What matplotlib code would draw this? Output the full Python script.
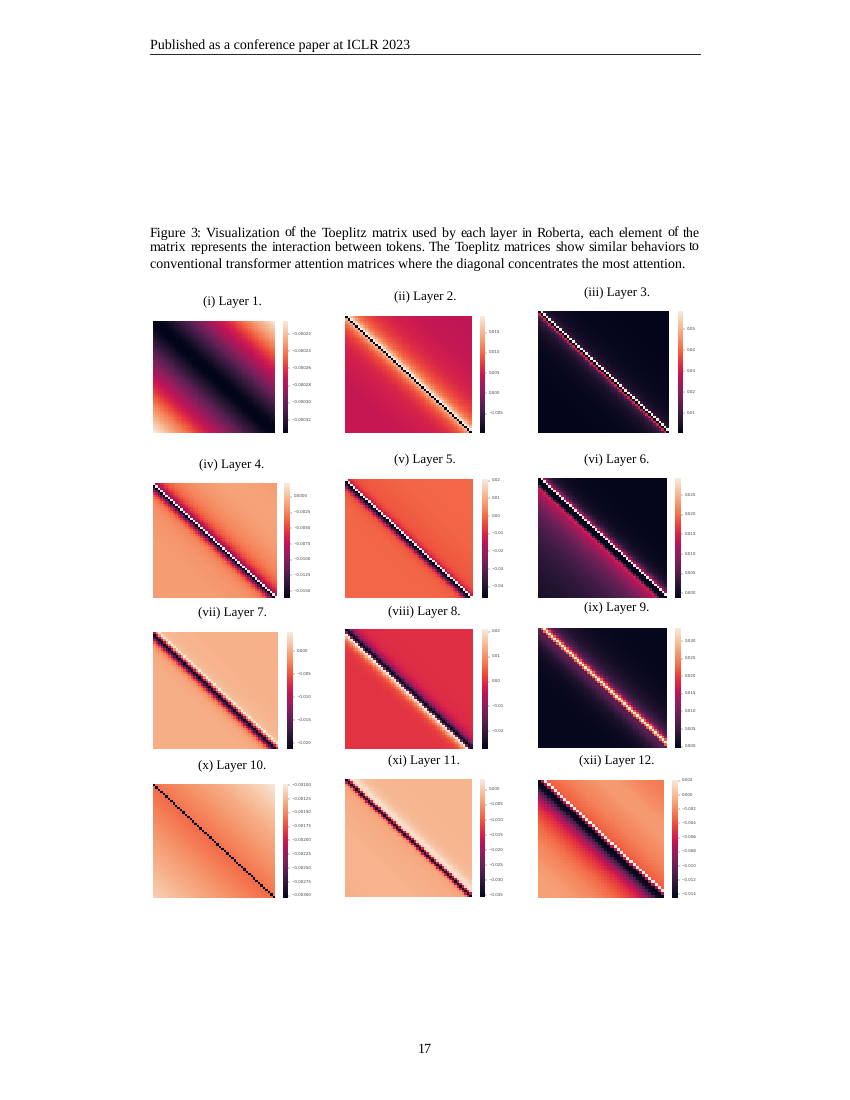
import matplotlib
matplotlib.use("Agg")
import matplotlib.pyplot as plt
import numpy as np
import seaborn as sns

plt.rcParams['font.family'] = ['Liberation Serif', 'DejaVu Serif']
plt.rcParams['text.hinting'] = 'no_hinting'
plt.rcParams['text.hinting_factor'] = 1

PAGE_W, PAGE_H = 850, 1100

# values, per offset from the main diagonal, in units of 1e-3
layer1_upper = [-.335, -.335, -.334, -.333, -.331, -.329, -.327, -.325, -.322, -.320,
                -.317, -.314, -.312, -.309, -.306, -.303, -.300, -.298, -.295, -.292,
                -.290, -.287, -.284, -.282, -.279, -.277, -.274, -.272, -.269, -.267,
                -.264, -.261, -.258, -.255, -.252, -.249, -.246, -.243, -.240, -.237,
                -.234, -.231, -.228, -.225, -.223, -.220, -.217, -.214, -.210, -.205]
layer1_lower = [-.335, -.335, -.334, -.332, -.330, -.328, -.325, -.323, -.320, -.318,
                -.315, -.312, -.309, -.306, -.303, -.300, -.298, -.295, -.292, -.290,
                -.287, -.284, -.282, -.279, -.277, -.274, -.272, -.269, -.267, -.264,
                -.261, -.258, -.255, -.252, -.249, -.246, -.243, -.240, -.237, -.234,
                -.232, -.229, -.226, -.223, -.220, -.217, -.214, -.211, -.208, -.205]

layer2_upper = [-9.7, 19.1, 16.0, 13.5, 11.8, 10.5, 9.7, 9.0, 8.4, 7.9,
                7.5, 7.1, 6.8, 6.5, 6.2, 6.0, 5.8, 5.6, 5.4, 5.2,
                5.1, 5.0, 4.9, 4.8, 4.7, 4.6, 4.5, 4.4, 4.3, 4.3,
                4.2, 4.2, 4.1, 4.1, 4.0, 4.0, 3.9, 3.9, 3.9, 3.8,
                3.8, 3.8, 3.8, 3.8, 3.8, 3.8, 3.8, 3.9, 3.9, 3.9]
layer2_lower = [-9.7, 14.5, 12.2, 10.7, 9.6, 8.7, 8.0, 7.5, 7.0, 6.6,
                6.3, 6.0, 5.8, 5.6, 5.4, 5.3, 5.2, 5.1, 5.0, 4.9,
                4.8, 4.7, 4.6, 4.6, 4.5, 4.5, 4.4, 4.4, 4.3, 4.3,
                4.3, 4.3, 4.3, 4.3, 4.3, 4.3, 4.3, 4.3, 4.3, 4.3,
                4.3, 4.3, 4.3, 4.3, 4.3, 4.3, 4.3, 4.4, 4.4, 4.4]

layer3_upper = [0.7, 58.5, 8.5, 6.0, 4.8, 4.0, 3.5, 3.1, 2.8, 2.6,
                2.4, 2.2, 2.0, 1.9, 1.8, 1.7, 1.6, 1.5, 1.4, 1.4,
                1.3, 1.3, 1.2, 1.2, 1.2, 1.1, 1.1, 1.1, 1.0, 1.0,
                1.0, 1.0, 1.0, 0.9, 0.9, 0.9, 0.9, 0.9, 0.9, 0.9,
                0.9, 0.9, 0.9, 0.9, 0.9, 0.9, 0.9, 0.9, 0.9, 0.9]
layer3_lower = [0.7, 31.0, 14.0, 9.5, 7.5, 6.2, 5.2, 4.5, 4.0, 3.5,
                3.1, 2.8, 2.5, 2.3, 2.1, 2.0, 1.8, 1.7, 1.6, 1.5,
                1.4, 1.4, 1.3, 1.3, 1.2, 1.2, 1.1, 1.1, 1.0, 1.0,
                1.0, 1.0, 1.0, 0.9, 0.9, 0.9, 0.9, 0.9, 0.9, 0.9,
                0.9, 0.9, 0.9, 0.9, 0.9, 0.9, 0.9, 0.9, 0.9, 0.9]

layer4_upper = [2.2, -9.0, -7.5, -6.2, -5.2, -4.5, -4.0, -3.6, -3.3, -3.0,
                -2.8, -2.6, -2.4, -2.3, -2.2, -2.1, -2.0, -1.9, -1.8, -1.7,
                -1.6, -1.6, -1.5, -1.5, -1.4, -1.4, -1.3, -1.3, -1.3, -1.3,
                -1.2, -1.2, -1.2, -1.2, -1.2, -1.2, -1.2, -1.2, -1.3, -1.3,
                -1.3, -1.3, -1.3, -1.4, -1.4, -1.4, -1.4, -1.5, -1.5, -1.5]
layer4_lower = [2.2, -16.1, -12.0, -8.0, -5.5, -4.0, -3.2, -2.7, -2.4, -2.2,
                -2.1, -2.0, -1.9, -1.9, -1.8, -1.8, -1.7, -1.7, -1.7, -1.6,
                -1.6, -1.6, -1.6, -1.5, -1.5, -1.5, -1.5, -1.5, -1.5, -1.5,
                -1.5, -1.5, -1.5, -1.5, -1.5, -1.5, -1.5, -1.5, -1.5, -1.5,
                -1.5, -1.5, -1.5, -1.5, -1.5, -1.5, -1.5, -1.5, -1.5, -1.5]

layer5_upper = [20.9, -12.0, -8.0, -5.5, -4.0, -3.4, -3.0, -2.7, -2.5, -2.3,
                -2.2, -2.1, -2.0, -1.9, -1.7, -1.6, -1.5, -1.4, -1.3, -1.2,
                -1.1, -1.0, -0.9, -0.9, -0.8, -0.8, -0.7, -0.7, -0.6, -0.6,
                -0.6, -0.5, -0.5, -0.5, -0.5, -0.5, -0.5, -0.5, -0.5, -0.5,
                -0.5, -0.5, -0.5, -0.5, -0.5, -0.5, -0.5, -0.5, -0.5, -0.5]
layer5_lower = [20.9, -46.0, -38.0, -22.0, -9.0, -4.0, -2.5, -1.8, -1.4, -1.2,
                -1.0, -0.9, -0.8, -0.7, -0.7, -0.6, -0.6, -0.6, -0.5, -0.5,
                -0.5, -0.5, -0.5, -0.5, -0.5, -0.5, -0.5, -0.5, -0.5, -0.5,
                -0.5, -0.5, -0.5, -0.5, -0.5, -0.5, -0.5, -0.5, -0.5, -0.5,
                -0.5, -0.5, -0.5, -0.5, -0.5, -0.5, -0.5, -0.5, -0.5, -0.5]

layer6_upper = [-1.2, 29.3, 12.0, 6.5, 3.8, 2.2, 1.4, 0.8, 0.4, 0.1,
                -0.1, -0.3, -0.4, -0.5, -0.6, -0.7, -0.7, -0.8, -0.8, -0.8,
                -0.9, -0.9, -0.9, -0.9, -0.9, -0.9, -0.9, -0.9, -0.9, -0.9,
                -0.9, -0.9, -0.9, -0.9, -0.9, -0.9, -0.9, -0.9, -0.9, -0.9,
                -0.9, -0.9, -0.9, -0.9, -0.9, -0.9, -0.9, -0.9, -0.9, -0.9]
layer6_lower = [-1.2, -0.8, -0.6, 6.0, 14.5, 13.0, 11.8, 10.8, 10.0, 9.3,
                8.7, 8.1, 7.6, 7.1, 6.7, 6.3, 5.9, 5.6, 5.3, 5.0,
                4.7, 4.4, 4.2, 4.0, 3.8, 3.6, 3.4, 3.2, 3.0, 2.8,
                2.7, 2.5, 2.4, 2.2, 2.1, 2.0, 1.9, 1.8, 1.7, 1.6,
                1.5, 1.4, 1.3, 1.2, 1.1, 1.0, 1.0, 0.9, 0.8, 0.7]

layer7_upper = [-10.0, -1.5, 4.2, 1.5, 1.1, 0.9, 0.8, 0.7, 0.7, 0.6,
                0.6, 0.5, 0.5, 0.5, 0.5, 0.5, 0.4, 0.4, 0.4, 0.4,
                0.4, 0.4, 0.4, 0.4, 0.4, 0.4, 0.4, 0.4, 0.4, 0.4,
                0.4, 0.4, 0.4, 0.4, 0.4, 0.4, 0.4, 0.4, 0.4, 0.4,
                0.4, 0.4, 0.4, 0.4, 0.4, 0.4, 0.4, 0.4, 0.4, 0.4]
layer7_lower = [-10.0, -21.0, -17.0, -10.0, -5.0, -2.5, -1.4, -0.8, -0.4, -0.2,
                -0.1, 0.0, 0.1, 0.1, 0.2, 0.2, 0.2, 0.2, 0.2, 0.2,
                0.2, 0.2, 0.2, 0.2, 0.2, 0.2, 0.2, 0.2, 0.2, 0.2,
                0.2, 0.2, 0.2, 0.2, 0.2, 0.2, 0.2, 0.2, 0.2, 0.2,
                0.2, 0.2, 0.2, 0.2, 0.2, 0.2, 0.2, 0.2, 0.2, 0.2]

layer8_upper = [-27.0, -20.0, -12.0, -7.0, -4.0, -2.5, -1.5, -1.0, -0.7, -0.5,
                -0.4, -0.3, -0.2, -0.1, -0.1, 0.0, 0.0, 0.0, 0.1, 0.1,
                0.1, 0.1, 0.1, 0.2, 0.2, 0.2, 0.2, 0.2, 0.2, 0.2,
                0.2, 0.2, 0.2, 0.2, 0.2, 0.2, 0.2, 0.2, 0.2, 0.2,
                0.2, 0.2, 0.2, 0.2, 0.2, 0.2, 0.2, 0.2, 0.2, 0.2]
layer8_lower = [-27.0, -12.0, 21.1, 14.0, 8.5, 5.0, 3.0, 2.0, 1.4, 1.0,
                0.8, 0.7, 0.6, 0.5, 0.5, 0.4, 0.4, 0.4, 0.4, 0.4,
                0.4, 0.4, 0.4, 0.4, 0.4, 0.4, 0.4, 0.4, 0.4, 0.4,
                0.4, 0.4, 0.4, 0.4, 0.4, 0.4, 0.4, 0.4, 0.4, 0.4,
                0.4, 0.4, 0.4, 0.4, 0.4, 0.4, 0.4, 0.4, 0.4, 0.4]

layer9_upper = [8.0, 23.0, 33.7, 22.0, 13.0, 8.5, 6.5, 5.2, 4.3, 3.6,
                3.0, 2.6, 2.2, 1.9, 1.6, 1.4, 1.2, 1.0, 0.9, 0.8,
                0.7, 0.6, 0.5, 0.4, 0.3, 0.3, 0.2, 0.2, 0.2, 0.1,
                0.1, 0.1, 0.1, 0.1, 0.0, 0.0, 0.0, 0.0, 0.0, 0.0,
                0.0, 0.0, 0.0, 0.0, 0.0, 0.0, 0.0, 0.0, 0.0, 0.0]
layer9_lower = [8.0, 7.5, 7.0, 6.0, 5.0, 4.0, 3.2, 2.6, 2.1, 1.7,
                1.4, 1.1, 0.9, 0.7, 0.6, 0.5, 0.4, 0.3, 0.3, 0.2,
                0.2, 0.2, 0.1, 0.1, 0.1, 0.1, 0.0, 0.0, 0.0, 0.0,
                0.0, 0.0, 0.0, 0.0, 0.0, 0.0, 0.0, 0.0, 0.0, 0.0,
                0.0, 0.0, 0.0, 0.0, 0.0, 0.0, 0.0, 0.0, 0.0, 0.0]

layer10_upper = [-3.04, -1.58, -1.56, -1.55, -1.54, -1.53, -1.52, -1.51, -1.50, -1.49,
                 -1.48, -1.47, -1.46, -1.45, -1.44, -1.43, -1.42, -1.41, -1.40, -1.39,
                 -1.38, -1.37, -1.36, -1.35, -1.34, -1.33, -1.32, -1.31, -1.29, -1.28,
                 -1.27, -1.26, -1.25, -1.24, -1.22, -1.21, -1.20, -1.19, -1.17, -1.16,
                 -1.15, -1.13, -1.12, -1.11, -1.09, -1.08, -1.06, -1.05, -1.03, -1.01]
layer10_lower = [-3.04, -1.62, -1.61, -1.60, -1.59, -1.58, -1.57, -1.56, -1.55, -1.54,
                 -1.53, -1.52, -1.51, -1.50, -1.49, -1.48, -1.47, -1.46, -1.45, -1.44,
                 -1.43, -1.42, -1.41, -1.40, -1.39, -1.38, -1.37, -1.36, -1.35, -1.34,
                 -1.33, -1.32, -1.31, -1.30, -1.29, -1.28, -1.27, -1.26, -1.25, -1.24,
                 -1.23, -1.22, -1.21, -1.20, -1.19, -1.18, -1.17, -1.16, -1.15, -1.13]

layer11_upper = [-35.6, -16.0, 0.5, 2.5, 2.0, 1.0, 0.0, -0.6, -1.0, -1.4,
                 -1.6, -1.7, -1.8, -1.8, -1.9, -1.9, -1.9, -1.9, -2.0, -2.0,
                 -2.0, -2.0, -2.0, -2.0, -2.0, -2.0, -2.0, -2.0, -2.0, -2.0,
                 -2.0, -2.0, -2.0, -2.0, -2.0, -2.0, -2.0, -2.0, -2.0, -2.0,
                 -2.0, -2.0, -2.0, -2.0, -2.0, -2.0, -2.0, -2.0, -2.0, -2.0]
layer11_lower = [-35.6, -17.0, -6.0, -4.0, -3.4, -3.1, -3.0, -2.9, -2.8, -2.8,
                 -2.7, -2.7, -2.6, -2.6, -2.5, -2.5, -2.4, -2.4, -2.3, -2.3,
                 -2.3, -2.2, -2.2, -2.2, -2.2, -2.2, -2.2, -2.2, -2.2, -2.2,
                 -2.2, -2.2, -2.2, -2.2, -2.2, -2.2, -2.2, -2.2, -2.2, -2.2,
                 -2.2, -2.2, -2.2, -2.3, -2.3, -2.3, -2.4, -2.4, -2.5, -2.5]

layer12_upper = [-14.5, -7.0, 2.1, -3.6, -3.3, -3.1, -2.9, -2.8, -2.6, -2.5,
                 -2.3, -2.2, -2.1, -2.0, -1.9, -1.8, -1.7, -1.6, -1.5, -1.4,
                 -1.3, -1.3, -1.3, -1.3, -1.4, -1.4, -1.5, -1.6, -1.7, -1.8,
                 -1.9, -2.0, -2.1, -2.2, -2.3, -2.4, -2.4, -2.5, -2.5, -2.5]
layer12_lower = [-14.5, -14.3, -13.5, -11.2, -9.9, -8.4, -7.2, -6.4, -5.8, -5.2,
                 -4.8, -4.4, -4.1, -3.8, -3.5, -3.2, -3.0, -2.8, -2.6, -2.4,
                 -2.3, -2.1, -2.0, -1.9, -1.8, -1.7, -1.6, -1.5, -1.4, -1.3,
                 -1.3, -1.2, -1.2, -1.1, -1.1, -1.1, -1.1, -1.1, -1.1, -1.1]

titles = ["(i) Layer 1.", "(ii) Layer 2.", "(iii) Layer 3.",
          "(iv) Layer 4.", "(v) Layer 5.", "(vi) Layer 6.",
          "(vii) Layer 7.", "(viii) Layer 8.", "(ix) Layer 9.",
          "(x) Layer 10.", "(xi) Layer 11.", "(xii) Layer 12."]
uppers = [layer1_upper, layer2_upper, layer3_upper, layer4_upper, layer5_upper, layer6_upper,
          layer7_upper, layer8_upper, layer9_upper, layer10_upper, layer11_upper, layer12_upper]
lowers = [layer1_lower, layer2_lower, layer3_lower, layer4_lower, layer5_lower, layer6_lower,
          layer7_lower, layer8_lower, layer9_lower, layer10_lower, layer11_lower, layer12_lower]

vmins = [-0.000335, -0.00975, 0.0007, -0.0161, -0.0464, -0.0012,
         -0.0212, -0.0271, -0.0004, -0.00304, -0.0356, -0.0145]
vmaxs = [-0.000205, 0.0191, 0.0585, 0.0022, 0.0209, 0.0293,
         0.0042, 0.0211, 0.0337, -0.00098, 0.0036, 0.0021]

cbar_ticks = [
    [-0.00022, -0.00024, -0.00026, -0.00028, -0.00030, -0.00032],
    [0.015, 0.010, 0.005, 0.000, -0.005],
    [0.05, 0.04, 0.03, 0.02, 0.01],
    [0.0000, -0.0025, -0.0050, -0.0075, -0.0100, -0.0125, -0.0150],
    [0.02, 0.01, 0.00, -0.01, -0.02, -0.03, -0.04],
    [0.025, 0.020, 0.015, 0.010, 0.005, 0.000],
    [0.000, -0.005, -0.010, -0.015, -0.020],
    [0.02, 0.01, 0.00, -0.01, -0.02],
    [0.030, 0.025, 0.020, 0.015, 0.010, 0.005, 0.000],
    [-0.00100, -0.00125, -0.00150, -0.00175, -0.00200, -0.00225, -0.00250, -0.00275, -0.00300],
    [0.000, -0.005, -0.010, -0.015, -0.020, -0.025, -0.030, -0.035],
    [0.002, 0.000, -0.002, -0.004, -0.006, -0.008, -0.010, -0.012, -0.014],
]
tick_decimals = [5, 3, 2, 4, 2, 3, 3, 2, 3, 5, 3, 3]

# pixel boxes on the page: heatmap left, right, top, bottom, colourbar left, right
boxes = [(153, 275, 321, 433, 283, 288), (345, 472, 316, 433, 480, 485), (538, 669, 311, 433, 678, 683),
         (153, 277, 483, 598, 284, 290), (345, 473, 479, 598, 482, 488), (538, 667, 478, 598, 675, 681),
         (153, 278, 632, 749, 287, 293), (345, 473, 629, 749, 482, 488), (538, 667, 628, 748, 675, 681),
         (153, 275, 784, 898, 283, 288), (345, 472, 779, 897, 480, 485), (538, 664, 780, 898, 672, 678)]
title_pos = [(232, 301), (425, 296), (617, 292), (232, 464), (425, 459), (617, 459),
             (232, 612), (424, 611), (617, 607), (232, 765), (424, 760), (617, 760)]

caption = ["Figure 3: Visualization of the Toeplitz matrix used by each layer in Roberta, each element of the",
           "matrix represents the interaction between tokens. The Toeplitz matrices show similar behaviors to",
           "conventional transformer attention matrices where the diagonal concentrates the most attention."]


def toeplitz(upper, lower):
    n = len(upper)
    m = np.zeros((n, n))
    for i in range(n):
        for j in range(n):
            m[i, j] = upper[j - i] if j >= i else lower[i - j]
    return m * 1e-3


def px_axes(fig, left, right, top, bottom):
    return fig.add_axes([left / PAGE_W, 1 - bottom / PAGE_H, (right - left) / PAGE_W, (bottom - top) / PAGE_H])


def put_text(fig, x, y, s, **kw):
    return fig.text(x / PAGE_W, 1 - y / PAGE_H, s, **kw)


def justified(fig, line, x0, x1, y, size):
    # word by word, the spaces take up what is left of the column
    words = line.split(" ")
    renderer = fig.canvas.get_renderer()
    arts = [put_text(fig, x0, y, w, fontsize=size, va="baseline", ha="left") for w in words]
    widths = [a.get_window_extent(renderer).width for a in arts]
    gap = (x1 - x0 - sum(widths)) / (len(words) - 1)
    x = x0
    for a, w in zip(arts, widths):
        a.set_x(x / PAGE_W)
        x += w + gap


fig = plt.figure(figsize=(8.5, 11), dpi=100)

put_text(fig, 150, 49, "Published as a conference paper at ICLR 2023", fontsize=9.85, va="baseline")
fig.add_artist(plt.Line2D([150 / PAGE_W, 700 / PAGE_W], [1 - 54 / PAGE_H] * 2, color="black", lw=0.6))

justified(fig, caption[0], 150, 700, 237, 9.85)
justified(fig, caption[1], 150, 700, 251, 9.85)
put_text(fig, 150, 268, caption[2], fontsize=9.85, va="baseline")

for i, title in enumerate(titles):
    left, right, top, bottom, cleft, cright = boxes[i]
    ax = px_axes(fig, left, right, top, bottom)
    cax = px_axes(fig, cleft, cright, top, bottom)
    sns.heatmap(toeplitz(uppers[i], lowers[i]), ax=ax, cbar_ax=cax, vmin=vmins[i], vmax=vmaxs[i],
                xticklabels=False, yticklabels=False, square=False)
    cax.set_yticks(cbar_ticks[i])
    cax.set_yticklabels([f"{t:.{tick_decimals[i]}f}".replace("-", "\u2212") for t in cbar_ticks[i]],
                        family="DejaVu Sans", fontsize=3.2, color="#444444")
    cax.tick_params(axis="y", length=1.2, width=0.3, pad=1.5, color="#444444")
    put_text(fig, title_pos[i][0], title_pos[i][1], title, fontsize=9, ha="center", va="center")

put_text(fig, 425, 1050, "17", fontsize=10, ha="center", va="center")

fig.savefig("out.png", dpi=100)
